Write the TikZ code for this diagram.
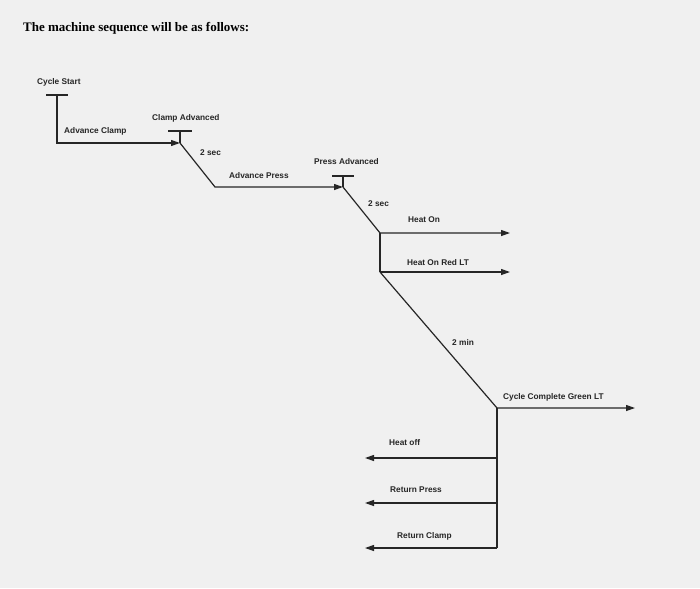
\documentclass[tikz,border=0pt]{standalone}
\usepackage{fontspec}
\setmainfont{Liberation Serif}
\newfontfamily\lab{Liberation Sans}
\usetikzlibrary{arrows.meta}
\begin{document}
\begin{tikzpicture}[x=1pt,y=-1pt,
  ln/.style={line width=1.2pt,black!85},
  arr/.style={ln,-{Triangle[length=9pt,width=6pt]}},
  lb/.style={font=\lab\bfseries\fontsize{8.3}{10}\selectfont,anchor=west,inner sep=0pt,text=black!85}]
\fill[gray!12] (0,0) rectangle (700,588);
\useasboundingbox (0,0) rectangle (700,588);
\node[anchor=west,inner sep=0pt,font=\bfseries\fontsize{13}{15}\selectfont] (title) at (23,28) {The machine sequence will be as follows:};
% coordinates
\coordinate (s) at (57,95);
\coordinate (a1) at (57,143);
\coordinate (c1) at (180,143);
\coordinate (c1t) at (180,131);
\coordinate (d1) at (215,187);
\coordinate (c2) at (343,187);
\coordinate (c2t) at (343,176);
\coordinate (d2) at (380,233);
\coordinate (h1) at (510,233);
\coordinate (d3) at (380,272);
\coordinate (h2) at (510,272);
\coordinate (d4) at (497,408);
\coordinate (g) at (635,408);
\coordinate (r1) at (497,458);
\coordinate (r1e) at (365,458);
\coordinate (r2) at (497,503);
\coordinate (r2e) at (365,503);
\coordinate (r3) at (497,548);
\coordinate (r3e) at (365,548);
% T bars
\draw[ln] ([xshift=-11pt]s) -- ([xshift=11pt]s);
\draw[ln] ([xshift=-12pt]c1t) -- ([xshift=12pt]c1t);
\draw[ln] (c1t) -- (c1);
\draw[ln] ([xshift=-11pt]c2t) -- ([xshift=11pt]c2t);
\draw[ln] (c2t) -- (c2);
% paths
\draw[arr] (s) -- (a1) -- (c1);
\draw[arr] (c1) -- (d1) -- (c2);
\draw[arr] (c2) -- (d2) -- (h1);
\draw[ln] (d2) -- (d3);
\draw[arr] (d3) -- (h2);
\draw[arr] (d3) -- (d4) -- (g);
\draw[ln] (d4) -- (r3);
\draw[arr] (r1) -- (r1e);
\draw[arr] (r2) -- (r2e);
\draw[arr] (r3) -- (r3e);
% labels
\node[lb] (l1) at (37,82) {Cycle Start};
\node[lb] (l2) at (64,131) {Advance Clamp};
\node[lb] (l3) at (152,118) {Clamp Advanced};
\node[lb] (l4) at (200,153) {2 sec};
\node[lb] (l5) at (229,176) {Advance Press};
\node[lb] (l6) at (314,162) {Press Advanced};
\node[lb] (l7) at (368,204) {2 sec};
\node[lb] (l8) at (408,220) {Heat On};
\node[lb] (l9) at (407,263) {Heat On Red LT};
\node[lb] (l10) at (452,342) {2 min};
\node[lb] (l11) at (503,397) {Cycle Complete Green LT};
\node[lb] (l12) at (389,443) {Heat off};
\node[lb] (l13) at (390,490) {Return Press};
\node[lb] (l14) at (397,536) {Return Clamp};
\end{tikzpicture}
\end{document}
